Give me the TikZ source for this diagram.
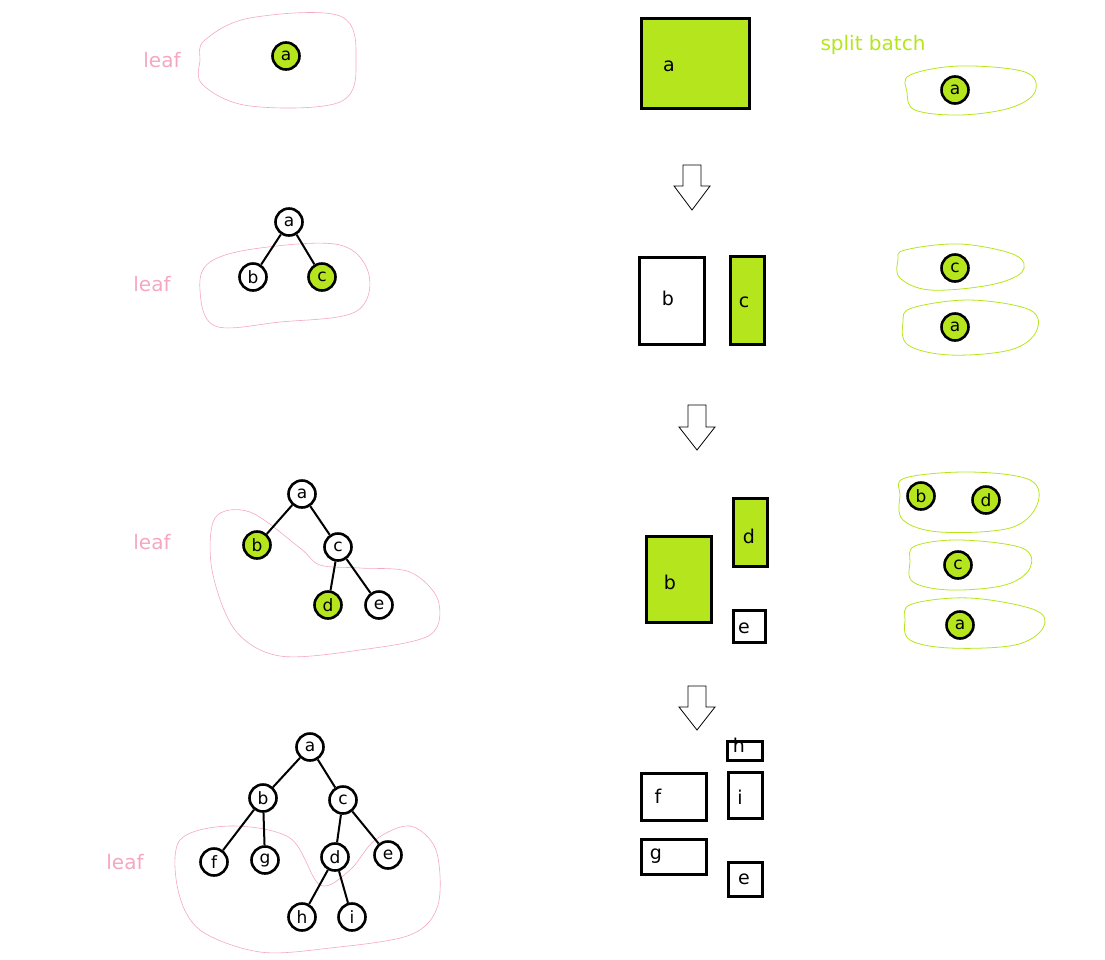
\documentclass[tikz,border=0pt]{standalone}
\usepackage{fontspec}
\setmainfont{DejaVu Sans}
\definecolor{lime}{HTML}{B5E61D}
\definecolor{leafpink}{HTML}{F4A7C2}
\begin{document}
\begin{tikzpicture}[x=1pt,y=-1pt,
 tn/.style={circle,draw=black,line width=2.6pt,minimum size=27pt,inner sep=0pt,font=\fontsize{17}{17}\selectfont,fill=white},
 gn/.style={tn,fill=lime},
 edge/.style={line width=2pt},
 wbox/.style={draw=black,line width=3pt,fill=white},
 gbox/.style={wbox,fill=lime},
 blt/.style={font=\fontsize{19}{19}\selectfont},
 leaflbl/.style={text=leafpink,font=\fontsize{20}{20}\selectfont},
 pblob/.style={draw=leafpink,line width=0.6pt},
 gblob/.style={draw=lime,line width=0.8pt},
 darr/.style={draw=black,line width=0.8pt,fill=white}]
\useasboundingbox (0,0) rectangle (1105,959);
% Row 1
\node[leaflbl] (l1) at (162,60) {leaf};
\draw[pblob] plot[smooth cycle,tension=0.6] coordinates{(205,40)(250,18)(340,16)(356,60)(340,102)(250,106)(203,85)(200,60)};
\node[gn] (t1a) at (286,56) {a};
\draw[gbox] (641,18) rectangle (749,108); \node[blt] (r1a) at (669,66) {a};
\node[text=lime,font=\fontsize{20}{20}\selectfont] (sb) at (873,45) {split batch};
\draw[gblob] plot[smooth cycle,tension=0.6] coordinates{(910,75)(960,66)(1025,72)(1035,92)(1010,108)(960,115)(915,110)(907,92)};
\node[gn] (s1a) at (955,90) {a};
\draw[darr] (683,165)--(701,165)--(701,186)--(710,186)--(692,210)--(674,186)--(683,186)--cycle;
% Row 2
\node[leaflbl] (l2) at (152,284) {leaf};
\draw[pblob] plot[smooth cycle,tension=0.6] coordinates{(210,262)(260,248)(340,245)(369,275)(355,312)(280,322)(215,326)(200,290)};
\node[tn] (t2a) at (289,222) {a};
\node[tn] (t2b) at (253,277) {b};
\node[gn] (t2c) at (322,277) {c};
\draw[edge] (t2a)--(t2b); \draw[edge] (t2a)--(t2c);
\draw[wbox] (639,257) rectangle (704,344); \node[blt] (r2b) at (668,298) {b};
\draw[gbox] (730,256) rectangle (764,344); \node[blt] (r2c) at (744,302) {c};
\draw[gblob] plot[smooth cycle,tension=0.6] coordinates{(905,250)(960,244)(1015,255)(1022,272)(990,285)(930,290)(900,278)(898,260)};
\node[gn] (s2c) at (955,268) {c};
\draw[gblob] plot[smooth cycle,tension=0.6] coordinates{(912,308)(970,300)(1030,310)(1036,332)(1010,350)(950,355)(908,345)(903,322)};
\node[gn] (s2a) at (955,327) {a};
\draw[darr] (688,405)--(706,405)--(706,427)--(715,427)--(697,450)--(679,427)--(688,427)--cycle;
% Row 3
\node[leaflbl] (l3) at (152,542) {leaf};
\draw[pblob] plot[smooth cycle,tension=0.55] coordinates{(215,518)(250,512)(300,548)(320,565)(360,568)(410,572)(438,600)(430,635)(360,650)(280,656)(235,630)(212,570)};
\node[tn] (t3a) at (302,494) {a};
\node[gn] (t3b) at (257,545) {b};
\node[tn] (t3c) at (338,547) {c};
\node[gn] (t3d) at (328,605) {d};
\node[tn] (t3e) at (379,605) {e};
\draw[edge] (t3a)--(t3b); \draw[edge] (t3a)--(t3c); \draw[edge] (t3c)--(t3d); \draw[edge] (t3c)--(t3e);
\draw[gbox] (733,498) rectangle (767,566); \node[blt] (r3d) at (749,536) {d};
\draw[gbox] (646,536) rectangle (711,622); \node[blt] (r3b) at (670,582) {b};
\draw[wbox] (733,610) rectangle (765,642); \node[blt] (r3e) at (744,628) {e};
\draw[gblob] plot[smooth cycle,tension=0.6] coordinates{(905,478)(970,472)(1030,480)(1037,505)(1010,528)(940,532)(903,520)(900,495)};
\node[gn] (s3b) at (921,496) {b};
\node[gn] (s3d) at (986,500) {d};
\draw[gblob] plot[smooth cycle,tension=0.6] coordinates{(915,546)(960,540)(1022,548)(1030,568)(1005,585)(950,590)(913,582)(910,562)};
\node[gn] (s3c) at (958,565) {c};
\draw[gblob] plot[smooth cycle,tension=0.6] coordinates{(912,604)(970,598)(1035,610)(1043,628)(1015,645)(950,648)(910,640)(905,620)};
\node[gn] (s3a) at (960,625) {a};
\draw[darr] (688,686)--(706,686)--(706,707)--(715,707)--(697,730)--(679,707)--(688,707)--cycle;
% Row 4
\node[leaflbl] (l4) at (125,862) {leaf};
\draw[pblob] plot[smooth cycle,tension=0.55] coordinates{(180,840)(230,826)(290,838)(320,885)(350,870)(375,840)(410,826)(436,850)(438,905)(410,935)(330,948)(260,952)(200,930)(178,890)};
\node[tn] (t4a) at (310,747) {a};
\node[tn] (t4b) at (263,798) {b};
\node[tn] (t4c) at (343,800) {c};
\node[tn] (t4f) at (214,862) {f};
\node[tn] (t4g) at (265,860) {g};
\node[tn] (t4d) at (335,857) {d};
\node[tn] (t4e) at (388,855) {e};
\node[tn] (t4h) at (302,917) {h};
\node[tn] (t4i) at (352,917) {i};
\draw[edge] (t4a)--(t4b); \draw[edge] (t4a)--(t4c); \draw[edge] (t4b)--(t4f); \draw[edge] (t4b)--(t4g);
\draw[edge] (t4c)--(t4d); \draw[edge] (t4c)--(t4e); \draw[edge] (t4d)--(t4h); \draw[edge] (t4d)--(t4i);
\draw[wbox] (727,741) rectangle (762,760); \node[blt] (r4h) at (739,745) {h};
\draw[wbox] (641,773) rectangle (706,820); \node[blt] (r4f) at (658,796) {f};
\draw[wbox] (728,772) rectangle (762,818); \node[blt] (r4i) at (740,797) {i};
\draw[wbox] (641,839) rectangle (706,874); \node[blt] (r4g) at (656,856) {g};
\draw[wbox] (728,862) rectangle (762,896); \node[blt] (r4e) at (744,879) {e};
\end{tikzpicture}
\end{document}
